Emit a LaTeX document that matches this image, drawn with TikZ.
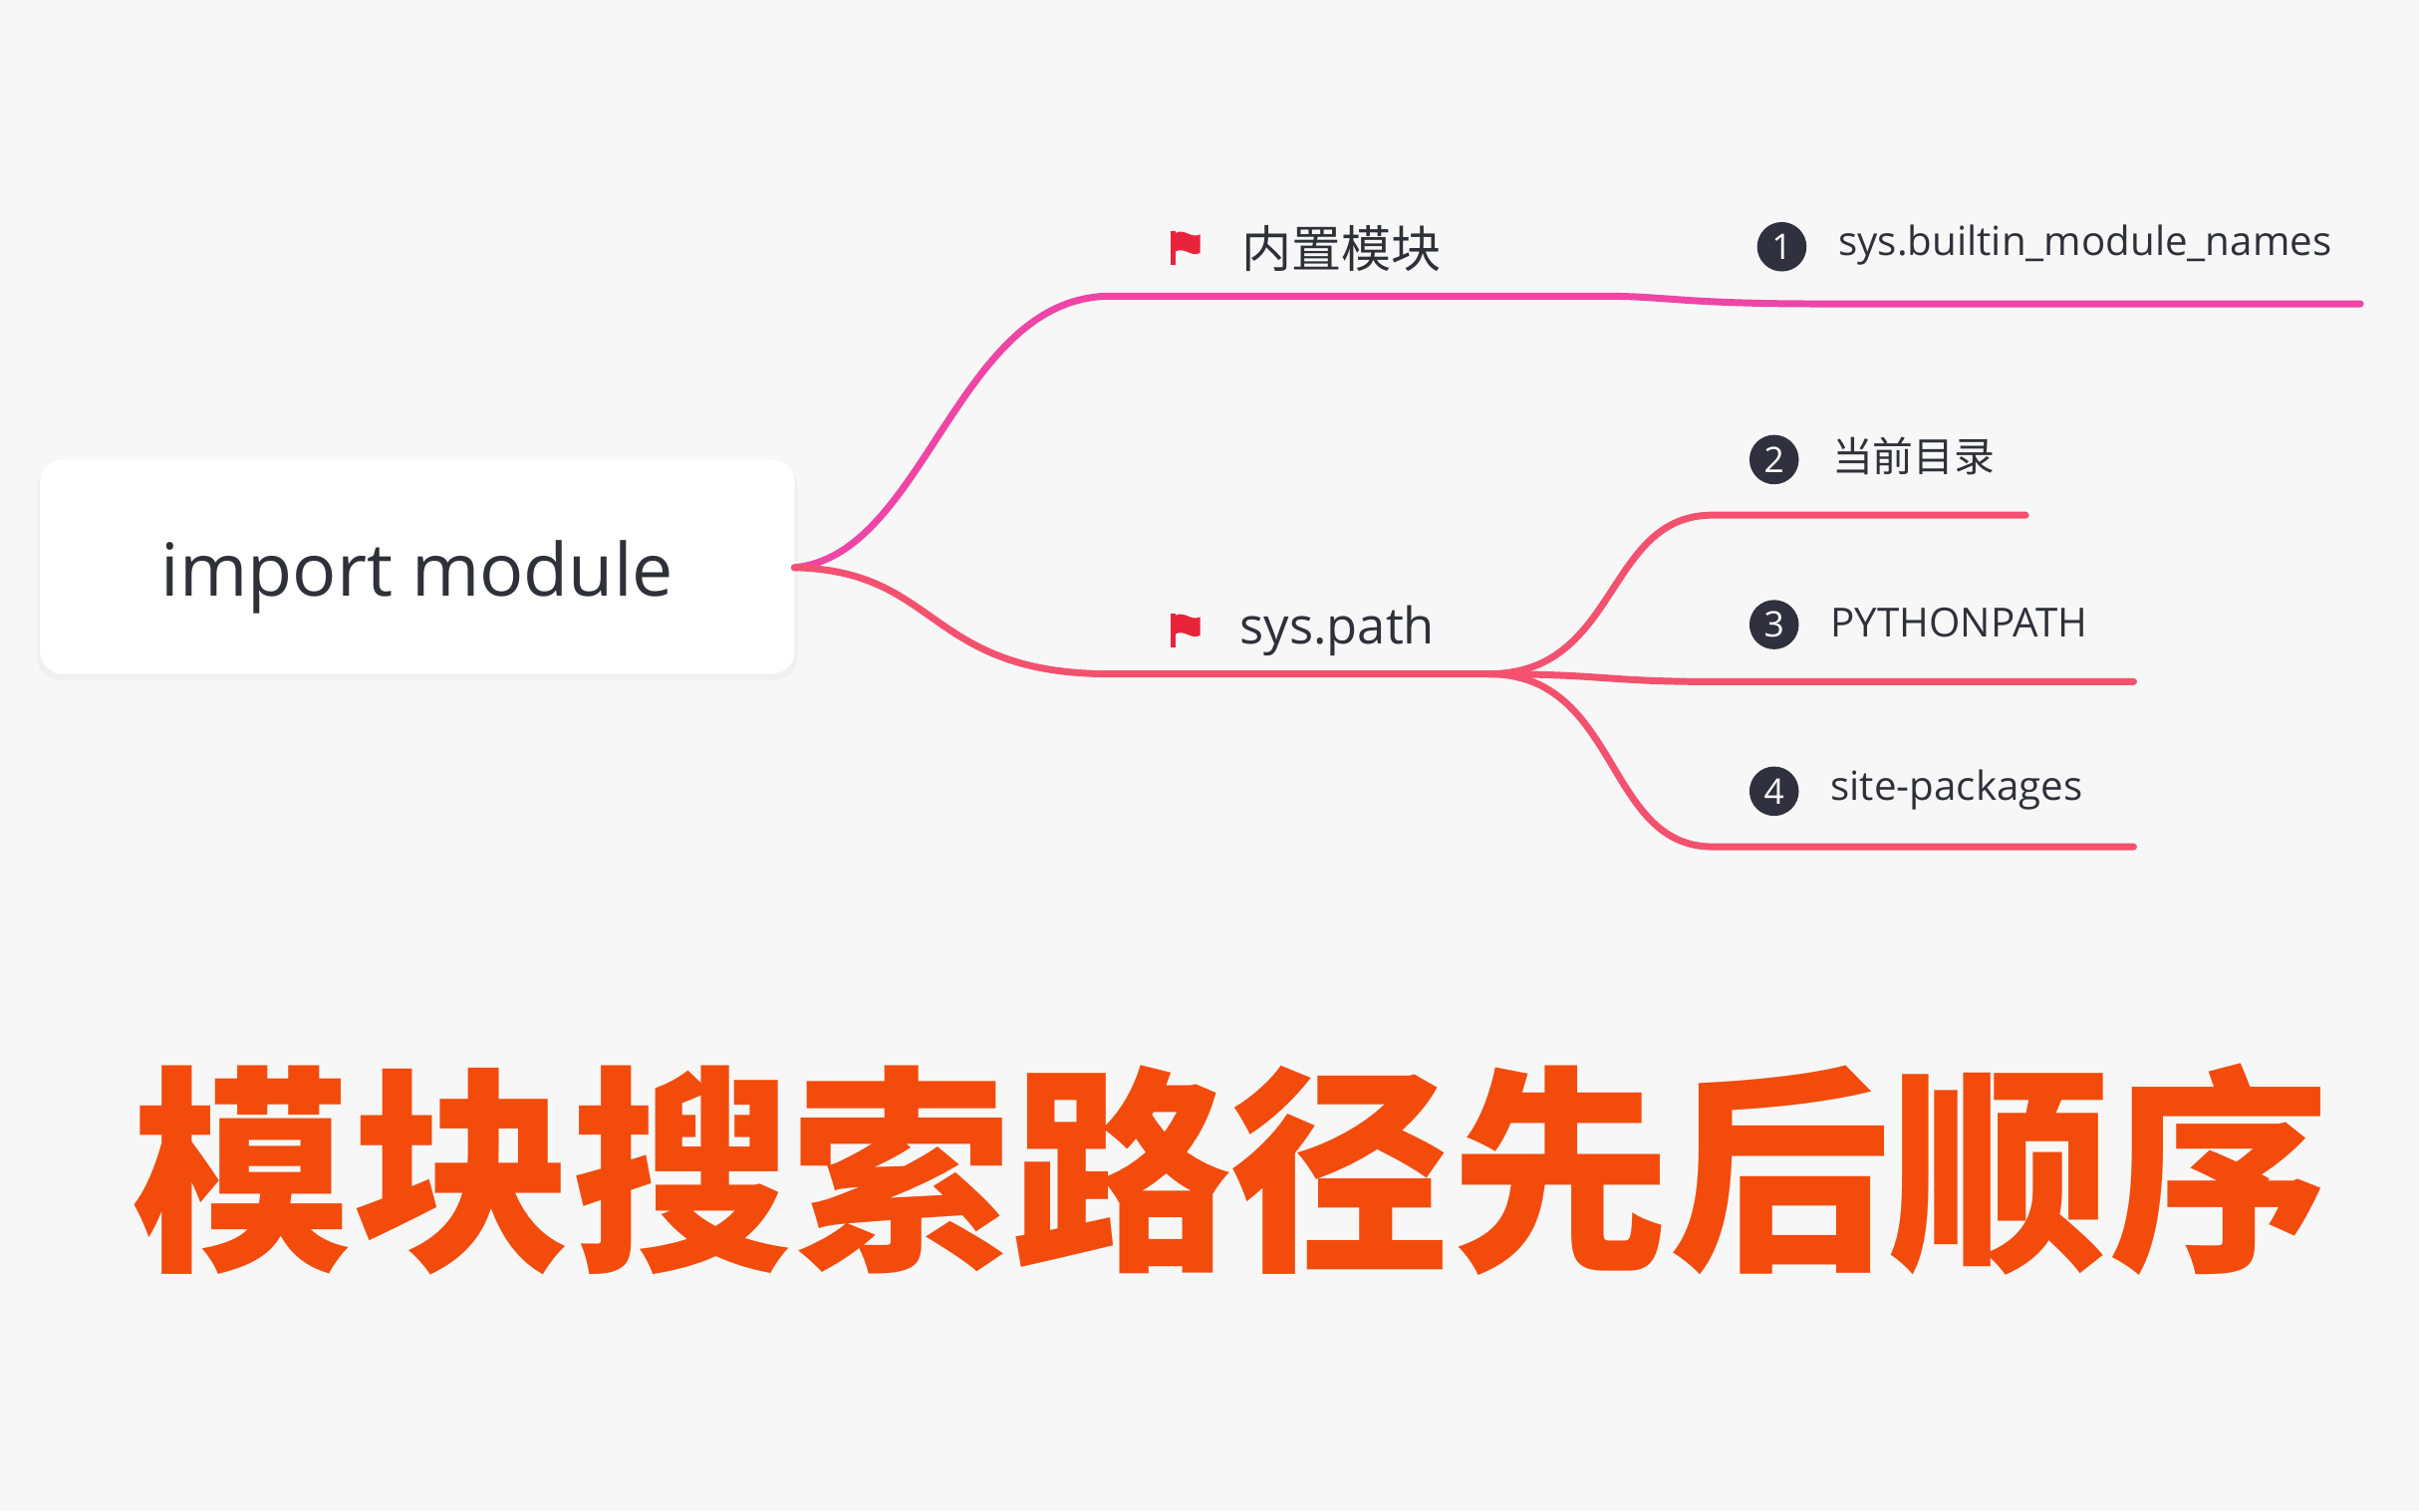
\documentclass[tikz,border=0pt]{standalone}
\usepackage{fontspec}
\setmainfont{Open Sans}
\newfontfamily\cjk{Noto Sans CJK SC}
\usetikzlibrary{positioning}
\definecolor{bgc}{HTML}{F7F7F7}
\definecolor{topc}{HTML}{EE45A6}
\definecolor{lowc}{HTML}{F4516F}
\definecolor{ink}{HTML}{2E3138}
\definecolor{numc}{HTML}{30303F}
\definecolor{flagc}{HTML}{E8233A}
\definecolor{titlec}{HTML}{F24B0C}
\begin{document}
\begin{tikzpicture}[%
        x = 0.01cm, y = -0.01cm,
        branch/.style = {line width = 0.45mm, line cap = round},
        num/.style = {circle, fill = numc, text = white, inner sep = 0pt,
            minimum size = 0.32cm, font = \fontsize{6.5}{7}\selectfont},
        leaf/.style = {anchor = west, text = ink, inner sep = 0pt,
            font = \fontsize{7.4}{8}\selectfont},
        mid/.style = {anchor = west, text = ink, inner sep = 0pt,
            font = \fontsize{9.3}{10}\selectfont}
    ]
    \useasboundingbox[fill = bgc] (0, 0) rectangle (1568, 980);

    % Root box with a faint shadow.
    \fill[black!6, rounded corners = 0.15cm] (24, 301) rectangle (517, 441);
    \node (rootbox) [fill = white, rounded corners = 0.15cm, minimum width = 4.89cm,
        minimum height = 1.39cm] at (270.5, 367.5) {};
    \node (root) [text = ink, font = \fontsize{13.5}{15}\selectfont]
        at (270.5, 374) {import module};

    % Branch points.
    \coordinate (start) at (515, 368);
    \coordinate (top) at (720, 192);
    \coordinate (low) at (720, 437);
    \coordinate (fork) at (965, 437);

    % Branches.
    \draw[branch, topc] (start) .. controls (600, 360) and (620, 192) .. (top)
        -- (1040, 192) .. controls (1080, 192) and (1090, 197) .. (1180, 197) -- (1530, 197);
    \draw[branch, lowc] (start) .. controls (610, 370) and (600, 437) .. (low) -- (fork);
    \draw[branch, lowc] (fork) .. controls (1050, 437) and (1040, 334) .. (1110, 334) -- (1313, 334);
    \draw[branch, lowc] (fork) .. controls (1040, 437) and (1040, 442) .. (1110, 442) -- (1383, 442);
    \draw[branch, lowc] (fork) .. controls (1050, 437) and (1040, 549) .. (1110, 549) -- (1383, 549);

    % Flags and middle labels.
    \foreach \y in {160, 408} {
        \fill[flagc] (759, \y-10) rectangle (762, \y+12);
        \fill[flagc] (762, \y-9) .. controls (768, \y-12) and (772, \y-5) .. (778, \y-8)
            -- (778, \y+4) .. controls (772, \y+7) and (768, \y) .. (762, \y+3) -- cycle;
    }
    \node (builtin) [mid, font = \cjk\fontsize{9.2}{10}\selectfont] at (804, 161) {内置模块};
    \node (syspath) [mid] at (803, 409) {sys.path};

    % Numbered leaves.
    \node (n1) [num] at (1155, 160) {1};
    \node (l1) [leaf] at (1191, 159) {sys.builtin\_module\_names};
    \node (n2) [num] at (1150, 298) {2};
    \node (l2) [leaf, font = \cjk\fontsize{7.5}{8}\selectfont] at (1187, 296) {当前目录};
    \node (n3) [num] at (1150, 405) {3};
    \node (l3) [leaf] at (1186, 404) {PYTHONPATH};
    \node (n4) [num] at (1150, 513) {4};
    \node (l4) [leaf] at (1186, 512) {site-packages};

    % Title.
    \node (title) [text = titlec, font = \cjk\bfseries\fontsize{40.5}{44}\selectfont]
        at (798, 758) {模块搜索路径先后顺序};
\end{tikzpicture}
\end{document}
